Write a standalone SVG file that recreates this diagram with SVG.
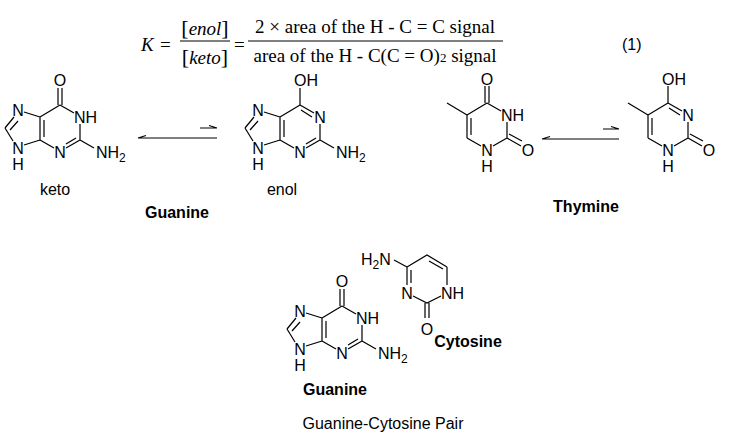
<svg xmlns="http://www.w3.org/2000/svg" xmlns:xlink="http://www.w3.org/1999/xlink" width="729" height="438" viewBox="0 0 729 438">
<style>
.b{stroke:#000;stroke-width:1.2;fill:none}
.a{font-family:"Liberation Sans",Arial,sans-serif;font-size:16px;fill:#000}
.c{text-anchor:middle}
.bold{font-family:"Liberation Sans",Arial,sans-serif;font-size:16px;font-weight:bold;text-anchor:middle}
.t{font-family:"Liberation Serif","Times New Roman",serif;font-size:19px}
</style>
<defs>
<g id="purine5">
<path class="b" d="M20,35 L6,43 M16,33 L6,39 M-6,43 L-20,35 M-20,35 V12 M-16,32 V15 M-20,12 L0,0 M-20,12 L-36,7 M-46,12 L-55,23 M-42,16 L-50,25 M-55,23 L-47,36 M-36,40 L-20,35 M20,35 L34,43 M20,19 V35"/>
<text class="a c" x="0" y="53">N</text>
<text class="a c" x="-42" y="11">N</text>
<text class="a c" x="-42" y="49">N</text>
<text class="a c" x="-42" y="65">H</text>
<text class="a" x="36" y="53">NH<tspan font-size="12" dy="4">2</tspan></text>
</g>
</defs>
<rect width="729" height="438" fill="#fff"/>
<g id="equation">
<text class="t" x="141" y="51" font-style="italic">K</text>
<text class="t" x="160" y="51">=</text>
<text class="t" x="205" y="35" text-anchor="middle"><tspan font-size="22">[</tspan><tspan font-style="italic">enol</tspan><tspan font-size="22">]</tspan></text>
<line class="b" x1="180" y1="41" x2="230" y2="41" stroke-width="1"/>
<text class="t" x="205" y="64" text-anchor="middle"><tspan font-size="22">[</tspan><tspan font-style="italic">keto</tspan><tspan font-size="22">]</tspan></text>
<text class="t" x="234" y="51">=</text>
<text class="t" x="375" y="33" text-anchor="middle">2 × area of  the H - C = C signal</text>
<line class="b" x1="248" y1="41" x2="503" y2="41" stroke-width="1"/>
<text class="t" x="375" y="62" text-anchor="middle">area of  the H - C(C = O)<tspan font-size="13">2</tspan> signal</text>
<text class="a" x="622" y="50" font-size="16">(1)</text>
</g>
<g id="guanine-keto" transform="translate(60,105)">
<use xlink:href="#purine5"/>
<path class="b" d="M-2,0 V-17 M2,0 V-17 M0,0 L14,8"/>
<text class="a c" x="0" y="-19">O</text>
<text class="a" x="14" y="18">NH</text>
</g>
<g id="guanine-enol" transform="translate(300,105)">
<use xlink:href="#purine5"/>
<path class="b" d="M0,0 V-17 M0,0 L14,8 M1,5 L12,12"/>
<text class="a" x="-6" y="-19">OH</text>
<text class="a c" x="20" y="18">N</text>
</g>
<g id="thymine-keto" transform="translate(487,103)">
<path class="b" d="M-2,0 V-17 M2,0 V-17 M0,0 L14,8 M20,19 V35 M20,35 L6,43 M-6,43 L-20,35 M-20,35 V12 M-16,32 V15 M-20,12 L0,0 M-20,12 L-40,0 M20,35 L34,43 M22,31 L35,38"/>
<text class="a c" x="0" y="-18">O</text>
<text class="a" x="14" y="18">NH</text>
<text class="a c" x="0" y="53">N</text>
<text class="a c" x="0" y="69">H</text>
<text class="a c" x="41" y="53">O</text>
</g>
<g id="thymine-enol" transform="translate(668,103)">
<path class="b" d="M0,0 V-17 M0,0 L14,8 M1,5 L12,12 M20,19 V35 M20,35 L6,43 M-6,43 L-20,35 M-20,35 V12 M-16,32 V15 M-20,12 L0,0 M-20,12 L-40,0 M20,35 L34,43 M22,31 L35,38"/>
<text class="a" x="-6" y="-18">OH</text>
<text class="a c" x="20" y="18">N</text>
<text class="a c" x="0" y="53">N</text>
<text class="a c" x="0" y="69">H</text>
<text class="a c" x="41" y="53">O</text>
</g>
<g id="connectors">
<path class="b" d="M217,138 H138 M138,138 L146,135.5 M200,128 H217 M217,128 L209,125.5"/>
<path class="b" d="M619,139 H542 M542,139 L550,136.5 M603,129 H619 M619,129 L611,126.5"/>
</g>
<g id="labels">
<text class="a c" x="55" y="195">keto</text>
<text class="a c" x="282" y="195">enol</text>
<text class="bold" x="177" y="218">Guanine</text>
<text class="bold" x="586" y="212">Thymine</text>
</g>
<g id="guanine-pair" transform="translate(342,306)">
<use xlink:href="#purine5"/>
<path class="b" d="M-2,0 V-17 M2,0 V-17 M0,0 L14,8"/>
<text class="a c" x="0" y="-19">O</text>
<text class="a" x="14" y="18">NH</text>
</g>
<g id="cytosine">
<path class="b" d="M407,267 L427,255 L447,267 M429,261 L443,269 M447,267 V285 M441,296 L427,303 L413,296 M407,285 V267 M411,283 V270 M425,303 V318 M429,303 V318 M407,267 L394,260"/>
<text class="a" x="361" y="265">H<tspan font-size="12" dy="4">2</tspan><tspan dy="-4">N</tspan></text>
<text class="a c" x="407" y="299">N</text>
<text class="a" x="441" y="299">NH</text>
<text class="a c" x="427" y="335">O</text>
</g>
<g id="pair-labels">
<text class="bold" x="335" y="395">Guanine</text>
<text class="bold" x="468" y="347">Cytosine</text>
<text class="a c" x="383" y="429">Guanine-Cytosine Pair</text>
</g>
</svg>
